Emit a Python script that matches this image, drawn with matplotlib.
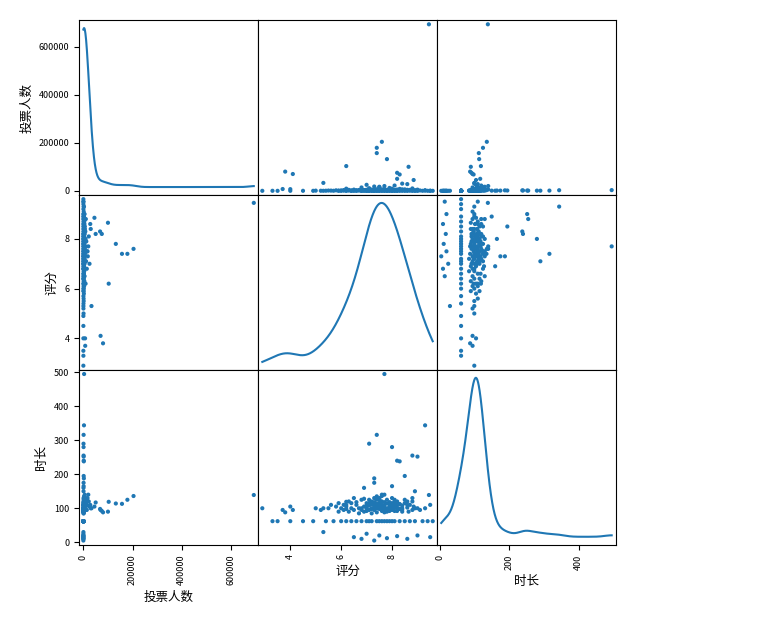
import matplotlib
matplotlib.use("Agg")
import matplotlib.pyplot as plt
from matplotlib.ticker import MultipleLocator
import pandas as pd

plt.rcParams['font.family'] = ['Noto Sans CJK SC', 'DejaVu Sans']
plt.rcParams['axes.unicode_minus'] = False

# big-vote films: votes, rating, duration
big_votes = [693000, 204000, 179000, 157000, 132000, 103000, 100000, 80000, 70000, 75000, 68000, 50000, 45000, 33000,
             20000, 17000, 15000, 12000, 10000, 8000, 7000, 7500, 9000, 6000, 5000, 22000, 25000, 28000, 30000, 14000, 18000, 11000]
big_rating = [9.45, 7.6, 7.4, 7.4, 7.8, 6.2, 8.65, 3.8, 4.1, 8.2, 8.3, 8.2, 8.85, 5.3,
              7.7, 7.5, 7.5, 7.9, 8.8, 8.3, 4.0, 3.7, 6.2, 8.5, 9.0, 8.1, 7.0, 8.6, 8.4, 6.8, 7.3, 7.1]
big_duration = [139, 136, 125, 113, 114, 119, 90, 88, 95, 92, 98, 117, 105, 100,
                140, 130, 125, 118, 120, 112, 105, 95, 110, 125, 100, 120, 105, 110, 100, 95, 108, 115]

# bulk films: rating, duration, votes
bulk_rating = [2.9,3.3,3.5,4.0,4.5,4.9,5.0,5.2,5.3,5.4,5.5,5.6,5.7,5.8,5.9,
    6.0,6.0,6.1,6.1,6.2,6.2,6.3,6.3,6.4,6.4,6.5,6.5,6.5,6.6,6.6,6.7,6.7,6.8,6.8,6.8,6.9,6.9,7.0,7.0,7.0,7.0,7.1,7.1,7.1,7.2,7.2,7.2,7.2,
    7.3,7.3,7.3,7.3,7.4,7.4,7.4,7.4,7.5,7.5,7.5,7.5,7.5,7.6,7.6,7.6,7.6,7.7,7.7,7.7,7.7,7.8,7.8,7.8,7.8,7.9,7.9,7.9,8.0,8.0,8.0,8.0,
    8.1,8.1,8.1,8.2,8.2,8.2,8.3,8.3,8.4,8.4,8.5,8.5,8.6,8.6,8.7,8.7,8.8,8.9,8.9,9.0,9.1,9.2,9.3,9.4,9.5,9.5,9.6,
    6.6,6.9,7.0,7.1,7.2,7.3,7.4,7.5,7.6,7.7,7.8,7.9,8.0,8.1,8.2,8.3,8.4,7.2,7.6,7.0,6.8,6.4,8.6,8.8,6.2,5.9,7.3,7.7,7.9,8.1,
    8.2,8.8,7.3,9.0,8.3,9.3,7.4,7.7,8.0,7.1,8.9,8.0,7.3,6.9,8.5]
bulk_duration = [100,62,62,62,62,62,100,95,30,62,100,110,62,105,90,
    100,62,110,95,105,62,120,90,100,62,130,95,15,110,62,85,100,125,62,10,105,90,100,62,115,25,95,108,62,100,120,85,62,
    110,95,130,5,100,105,62,88,115,98,62,125,20,102,92,62,140,108,96,62,118,100,90,62,12,112,99,62,105,95,130,62,
    110,92,62,100,120,18,98,62,108,90,115,62,102,10,110,62,95,100,62,20,95,62,100,62,110,15,62,
    118,128,92,125,112,102,135,108,120,88,125,105,115,125,108,112,96,98,110,108,100,115,120,130,98,115,118,100,92,102,
    240,255,188,252,238,344,316,495,280,290,150,165,175,160,195]
bulk_votes = [50,200,10,90,100,70,800,300,200,500,1200,900,300,2000,700,
    1500,200,3000,800,2500,400,4000,1000,600,100,5000,1800,50,2200,300,900,3500,6000,500,80,2800,1200,4500,700,3200,150,2000,1600,250,5200,2600,900,400,
    3800,1400,4200,60,6500,2100,350,1100,7000,2900,600,3300,120,4800,1700,450,5600,3700,2300,200,8000,4100,1300,500,90,5900,2700,300,4400,1900,9000,650,
    3100,1500,250,5400,2400,70,3600,400,6200,1000,2800,350,4300,60,3900,300,1800,2600,200,100,1400,150,900,100,500,50,30,
    1100,2400,800,3000,1900,700,2600,1200,2100,900,3400,1600,2000,1100,900,2500,700,1300,1500,1000,600,1300,1600,900,700,500,2200,1800,800,1400,
    1500,900,2000,1200,1800,2500,1000,3000,800,600,700,1100,900,500,1300]

votes = big_votes + bulk_votes
rating = big_rating + bulk_rating
duration = big_duration + bulk_duration

df = pd.DataFrame({'投票人数': votes, '评分': rating, '时长': duration})

fig = plt.figure(figsize=(7.68, 6.29), dpi=100)
ax = fig.add_subplot(111)
axes = pd.plotting.scatter_matrix(df, diagonal='kde', alpha=1, ax=ax)
fig.subplots_adjust(left=0.103, right=0.802, top=0.968, bottom=0.134, wspace=0, hspace=0)
for i in range(3):
    axes[1, i].yaxis.set_major_locator(MultipleLocator(2))
    axes[i, 1].xaxis.set_major_locator(MultipleLocator(2))
    axes[i, 2].xaxis.set_major_locator(MultipleLocator(200))
    axes[2, i].yaxis.set_major_locator(MultipleLocator(100))
for a in axes.flatten():
    a.tick_params(labelsize=6.5)
    a.xaxis.label.set_size(9)
    a.yaxis.label.set_size(9)
fig.savefig('out.png', dpi=100)
